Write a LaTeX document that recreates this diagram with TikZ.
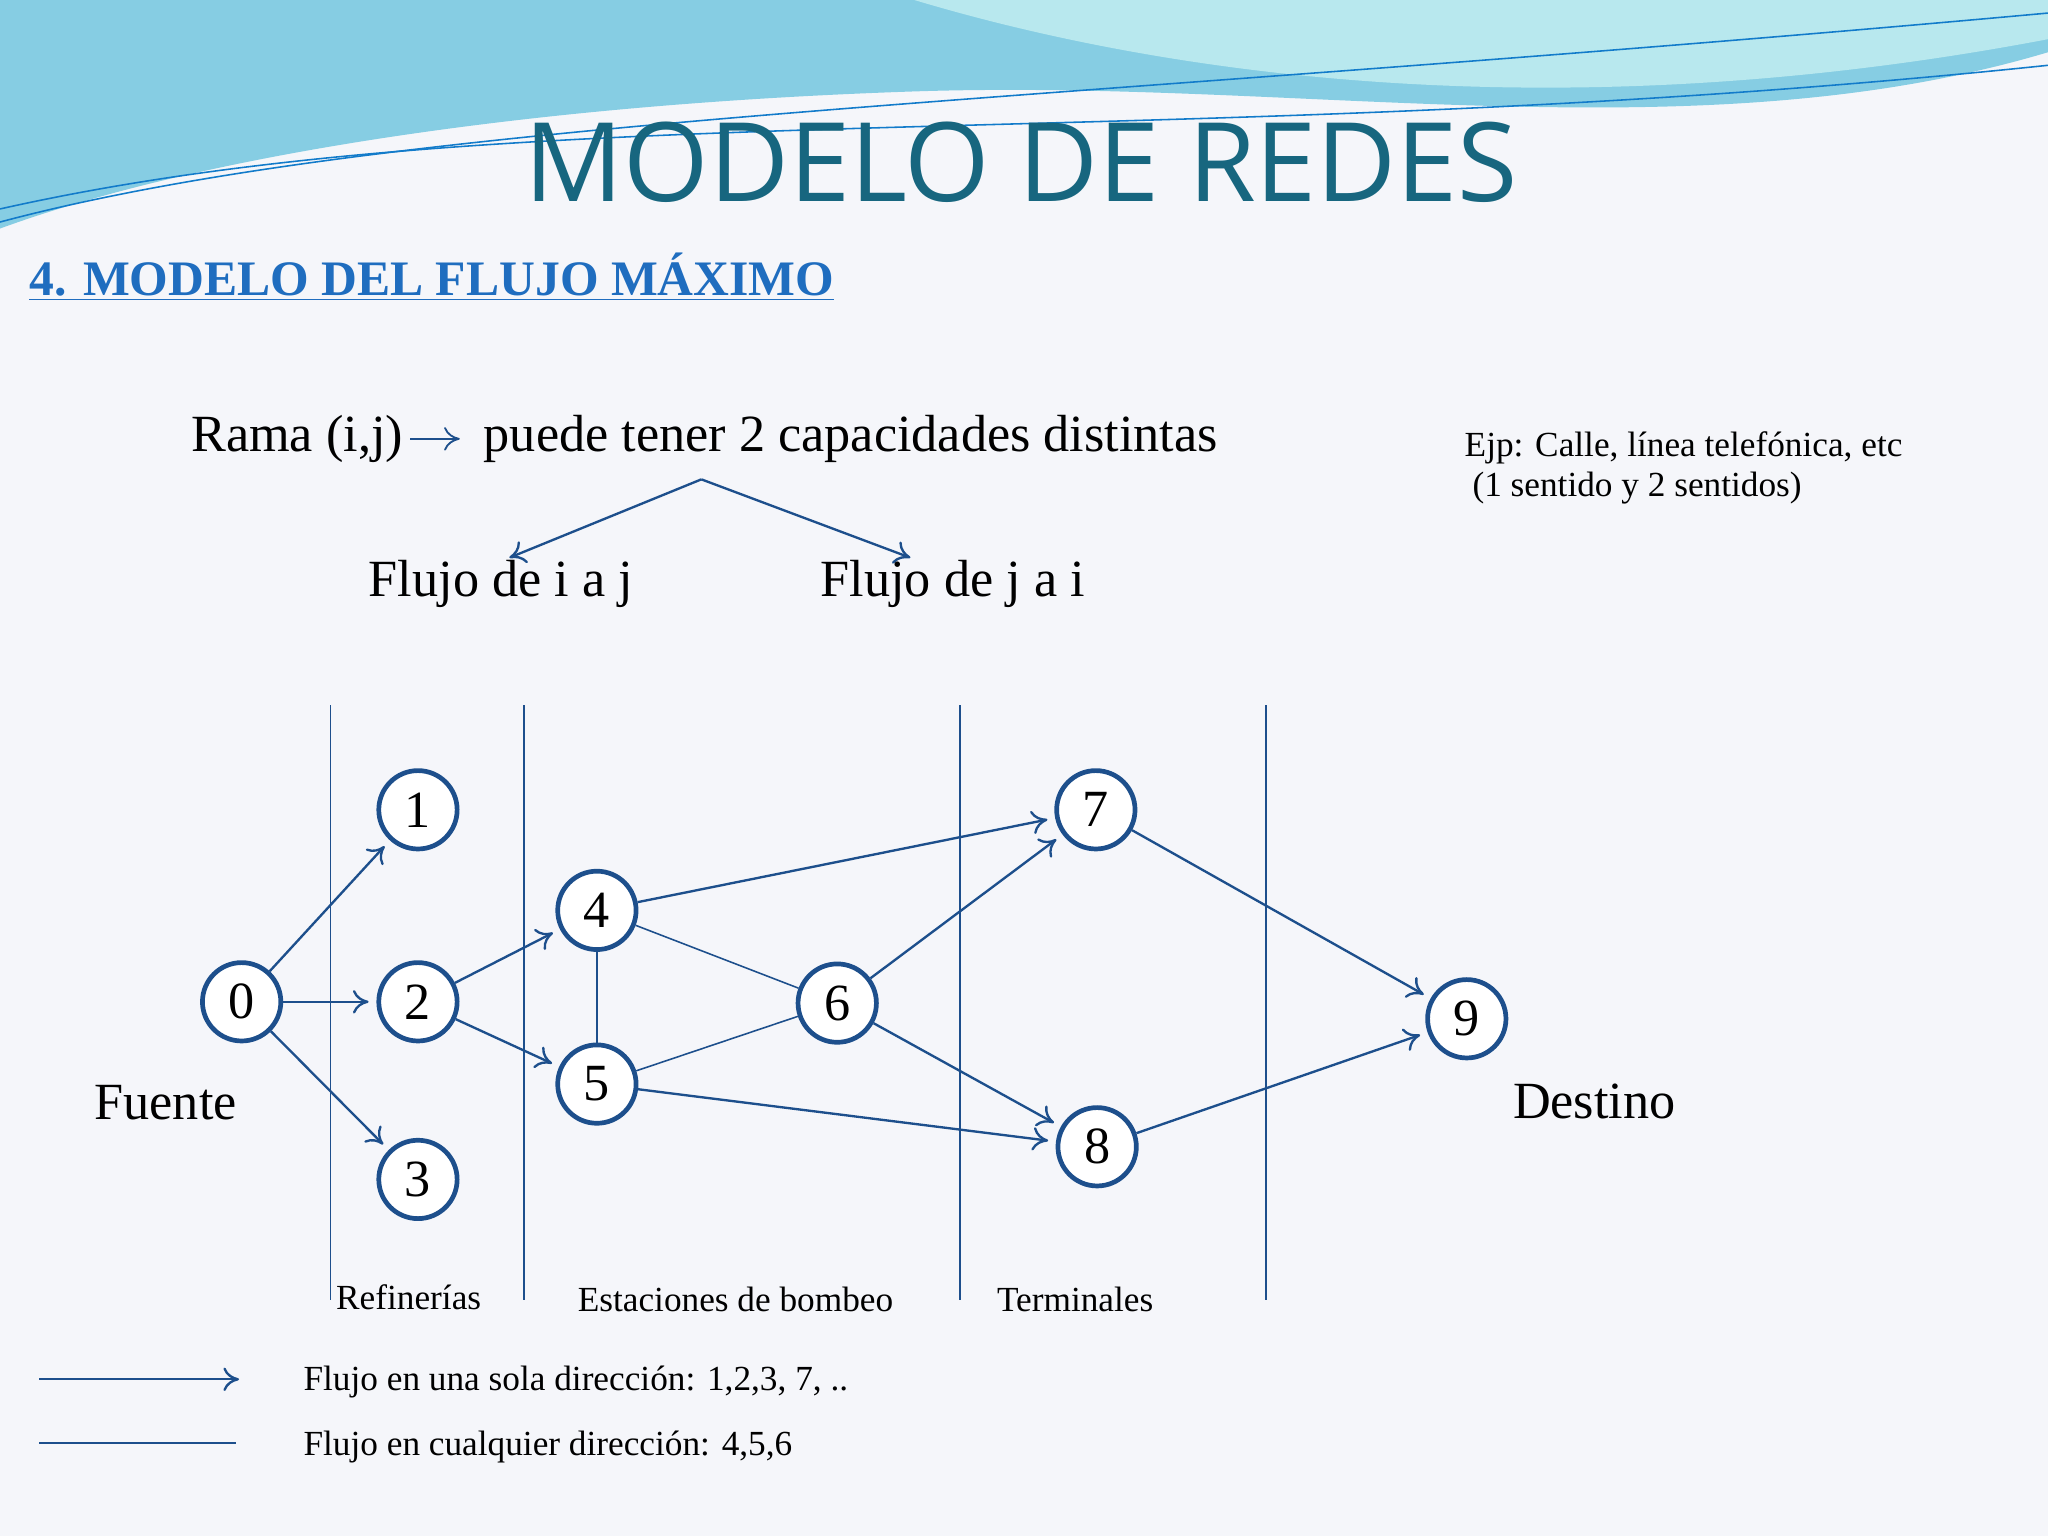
\documentclass[tikz,border=0pt]{standalone}
\usepackage{fontspec}
\setmainfont{Liberation Serif}
\newfontfamily\titlefont{Open Sans}
\usetikzlibrary{arrows.meta}
\definecolor{nblue}{HTML}{1D4F8C}
\definecolor{tealt}{HTML}{17667F}
\definecolor{subblue}{HTML}{1F6DBF}
\definecolor{wave1}{HTML}{86CDE3}
\definecolor{wave2}{HTML}{B8E8EE}
\definecolor{bgc}{HTML}{F5F6FA}
\begin{document}
\begin{tikzpicture}[x=0.5pt,y=-0.5pt,
  nd/.style={circle,draw=nblue,line width=1.8pt,fill=white,minimum size=30pt,inner sep=0pt,font=\fontsize{20}{20}\selectfont},
  ar/.style={draw=nblue,line width=0.9pt,-{To[length=6pt,width=9pt]},shorten >=3pt},
  ln/.style={draw=nblue,line width=0.6pt},
  vl/.style={draw=nblue,line width=0.7pt},
  tx/.style={inner sep=0pt,anchor=west,font=\fontsize{20}{22}\selectfont},
  sm/.style={inner sep=0pt,anchor=west,font=\fontsize{13.5}{15}\selectfont}]
\useasboundingbox (0,0) rectangle (1568,1176);
\fill[bgc] (0,0) rectangle (1568,1176);
% waves
\fill[wave1] (0,0) -- (1568,0) -- (1568,40) .. controls (1300,120) and (1000,60) .. (700,70) .. controls (400,80) and (150,120) .. (0,175) -- cycle;
\fill[wave2] (700,0) .. controls (900,60) and (1200,100) .. (1568,30) -- (1568,0) -- cycle;
\draw[cyan!60!blue,line width=0.6pt] (0,170) .. controls (300,90) and (800,80) .. (1568,10);
\draw[cyan!60!blue,line width=0.6pt] (0,160) .. controls (400,70) and (900,120) .. (1568,50);
\node[inner sep=0pt,text=tealt,font=\titlefont\fontsize{42}{42}\selectfont] (title) at (782,124) {MODELO DE REDES};
\node[inner sep=0pt,anchor=west,text=subblue,font=\fontsize{19}{20}\selectfont\bfseries] (sub) at (22,212) {\underline{4. MODELO DEL FLUJO MÁXIMO}};
\node[tx] (rama) at (146,336) {Rama (i,j)};
\coordinate (ra1) at (314,336); \coordinate (ra2) at (352,336);
\draw[ar,shorten >=0pt,line width=0.7pt] (ra1) -- (ra2);
\node[tx] (puede) at (370,336) {puede tener 2 capacidades distintas};
\coordinate (top) at (537,367); \coordinate (l1) at (390,427); \coordinate (l2) at (697,427);
\draw[ar,shorten >=0pt] (top) -- (l1);
\draw[ar,shorten >=0pt] (top) -- (l2);
\node[tx] (fij) at (282,447) {Flujo de i a j};
\node[tx] (fji) at (628,447) {Flujo de j a i};
\node[sm] (ejp) at (1121,343) {Ejp: Calle, línea telefónica, etc};
\node[sm] (sent) at (1127,374) {(1 sentido y 2 sentidos)};
% vertical lines
\foreach \x/\n in {253/a,401/b,735/c,969/d} {\coordinate (\n1) at (\x,540); \coordinate (\n2) at (\x,995); \draw[vl] (\n1) -- (\n2);}
% nodes
\node[nd] (n0) at (185,767) {0};
\node[nd] (n1) at (320,620) {1};
\node[nd] (n2) at (320,767) {2};
\node[nd] (n3) at (320,903) {3};
\node[nd] (n4) at (457,697) {4};
\node[nd] (n5) at (457,830) {5};
\node[nd] (n6) at (641,768) {6};
\node[nd] (n7) at (839,620) {7};
\node[nd] (n8) at (840,878) {8};
\node[nd] (n9) at (1123,780) {9};
\foreach \a/\b in {n0/n1,n0/n2,n0/n3,n2/n4,n2/n5,n4/n7,n6/n7,n6/n8,n5/n8,n7/n9,n8/n9} \draw[ar] (\a) -- (\b);
\foreach \a/\b in {n4/n5,n4/n6,n5/n6} \draw[ln] (\a) -- (\b);
\node[tx] (fuente) at (72,844) {Fuente};
\node[tx] (dest) at (1158,843) {Destino};
\node[sm] (ref) at (257,993) {Refinerías};
\node[sm] (est) at (442,995) {Estaciones de bombeo};
\node[sm] (ter) at (763,995) {Terminales};
\coordinate (g1) at (30,1056); \coordinate (g2) at (183,1056);
\coordinate (h1) at (30,1105); \coordinate (h2) at (181,1105);
\draw[ar,shorten >=0pt] (g1) -- (g2);
\draw[ln] (h1) -- (h2);
\node[sm] (lg1) at (232,1058) {Flujo en una sola dirección: 1,2,3, 7, ..};
\node[sm] (lg2) at (232,1108) {Flujo en cualquier dirección: 4,5,6};
\end{tikzpicture}
\end{document}
